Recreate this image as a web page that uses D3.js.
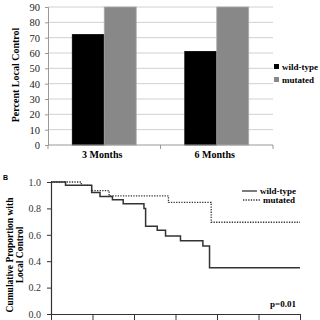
<!DOCTYPE html>
<html>
<head>
<meta charset="utf-8">
<script src="https://cdn.jsdelivr.net/npm/d3@7"></script>
<style>
  body { margin: 0; background: #fff; }
  svg text { font-family: "Liberation Serif", "DejaVu Serif", serif; }
</style>
</head>
<body>
<div id="chart"></div>
<script>
// ---- data: panel A (bar chart) ----
var categories = ["3 Months", "6 Months"];
var groups = ["wild-type", "mutated"];
var wildType = [72, 61];
var mutated = [90, 90];
var barTicks = [0, 10, 20, 30, 40, 50, 60, 70, 80, 90];

// ---- data: panel B (Kaplan-Meier steps, months vs proportion) ----
var wtTimes = [0, 3.5, 9.8, 11.8, 14.8, 17.4, 22.4, 22.8, 25.6, 27.6, 31.2, 36.6, 38.2, 60];
var wtSurv  = [1.0, 0.975, 0.92, 0.89, 0.865, 0.835, 0.80, 0.665, 0.635, 0.59, 0.555, 0.515, 0.35, 0.35];
var mutTimes = [0, 7.3, 9.8, 14.0, 28.3, 38.6, 60];
var mutSurv  = [1.0, 0.975, 0.935, 0.895, 0.845, 0.695, 0.695];
var kmTicksY = [0, 0.2, 0.4, 0.6, 0.8, 1.0];
var kmTicksX = [0, 10, 20, 30, 40, 50, 60];

var serif = "'Liberation Serif', 'DejaVu Serif', serif";

var svg = d3.select("#chart")
  .append("svg")
    .attr("width", 320)
    .attr("height", 320);

// ================= panel A =================
var xA = d3.scaleBand().domain(categories).range([48, 273]);
var xInner = d3.scaleBand().domain(groups)
  .range([0, xA.bandwidth()])
  .paddingOuter(0.76);
var yA = d3.scaleLinear().domain([0, 90]).range([145, 7]);

// gridlines
svg.append("g")
  .selectAll("line")
  .data(barTicks.slice(1))
  .enter().append("line")
    .attr("x1", 48).attr("x2", 273)
    .attr("y1", function(d) { return yA(d); })
    .attr("y2", function(d) { return yA(d); })
    .attr("stroke", "#d0d0d0")
    .attr("stroke-width", 1);

// bars
var barColor = { "wild-type": "#000", "mutated": "#888" };
var barData = [];
categories.forEach(function(c, i) {
  barData.push({ cat: c, grp: "wild-type", value: wildType[i] });
  barData.push({ cat: c, grp: "mutated", value: mutated[i] });
});
svg.append("g")
  .selectAll("rect")
  .data(barData)
  .enter().append("rect")
    .attr("x", function(d) { return xA(d.cat) + xInner(d.grp); })
    .attr("y", function(d) { return yA(d.value); })
    .attr("width", xInner.bandwidth())
    .attr("height", function(d) { return yA(0) - yA(d.value); })
    .attr("fill", function(d) { return barColor[d.grp]; })
    .attr("stroke", function(d) { return d.grp == "mutated" ? "#aaa" : "#000"; })
    .attr("stroke-width", 0.8);

// y axis
var yAxisA = svg.append("g")
  .attr("transform", "translate(48,0)")
  .call(d3.axisLeft(yA).tickValues(barTicks).tickSize(3).tickPadding(5));
yAxisA.attr("font-family", null);
yAxisA.select(".domain").attr("stroke", "#999");
yAxisA.selectAll(".tick line").attr("stroke", "#999");
yAxisA.selectAll("text").style("font-family", serif).style("font-size", "10.5px").attr("fill", "#222");

// x axis
var xAxisA = svg.append("g")
  .attr("transform", "translate(0,145)");
xAxisA.append("line")
  .attr("x1", 48).attr("x2", 273)
  .attr("stroke", "#999");
xAxisA.selectAll(".sep")
  .data([48, xA(categories[1]), 273])
  .enter().append("line")
    .attr("x1", function(d) { return d; })
    .attr("x2", function(d) { return d; })
    .attr("y1", 0).attr("y2", 4)
    .attr("stroke", "#999");
xAxisA.selectAll(".cat")
  .data(categories)
  .enter().append("text")
    .attr("x", function(d) { return xA(d) + xA.bandwidth() / 2 - 2; })
    .attr("y", 13)
    .attr("text-anchor", "middle")
    .style("font-family", serif)
    .style("font-size", "10px")
    .style("font-weight", "bold")
    .text(function(d) { return d; });

// y label
svg.append("text")
  .attr("transform", "translate(19,75) rotate(-90)")
  .attr("text-anchor", "middle")
  .style("font-family", serif)
  .style("font-size", "10px")
  .style("font-weight", "bold")
  .text("Percent Local Control");

// legend
var legA = svg.append("g").attr("transform", "translate(274,64)");
groups.forEach(function(g, i) {
  legA.append("rect")
    .attr("x", 0).attr("y", i * 13)
    .attr("width", 5).attr("height", 5)
    .attr("fill", barColor[g]);
  legA.append("text")
    .attr("x", 8).attr("y", i * 13 + 5.5)
    .style("font-family", serif)
    .style("font-size", "9px")
    .style("font-weight", "bold")
    .text(g);
});

// ================= panel B =================
var xB = d3.scaleLinear().domain([0, 60]).range([51, 300]);
var yB = d3.scaleLinear().domain([0, 1]).range([314, 182]);

svg.append("text")
  .attr("x", 3).attr("y", 180)
  .style("font-family", "'Liberation Sans', Arial, sans-serif")
  .style("font-size", "7px")
  .style("font-weight", "bold")
  .text("B");

var yAxisB = svg.append("g")
  .attr("transform", "translate(51,0)")
  .call(d3.axisLeft(yB).tickValues(kmTicksY).tickFormat(d3.format(".1f")).tickSize(4).tickPadding(6));
yAxisB.attr("font-family", null);
yAxisB.select(".domain").attr("stroke", "#333").attr("stroke-width", 1.2);
yAxisB.selectAll(".tick line").attr("stroke", "#333");
yAxisB.selectAll("text").style("font-family", serif).style("font-size", "10px").attr("fill", "#333");

var xAxisB = svg.append("g")
  .attr("transform", "translate(0,314)")
  .call(d3.axisBottom(xB).tickValues(kmTicksX).tickFormat("").tickSize(6).tickSizeOuter(0));
xAxisB.select(".domain").attr("stroke", "#333").attr("stroke-width", 1.2);
xAxisB.selectAll(".tick line").attr("stroke", "#333");

var stepLine = d3.line()
  .x(function(d) { return xB(d[0]); })
  .y(function(d) { return yB(d[1]); })
  .curve(d3.curveStepAfter);

svg.append("path")
  .datum(d3.zip(mutTimes, mutSurv))
  .attr("d", stepLine)
  .attr("fill", "none")
  .attr("stroke", "#333")
  .attr("stroke-width", 1.3)
  .attr("stroke-dasharray", "1.3,1.3");

svg.append("path")
  .datum(d3.zip(wtTimes, wtSurv))
  .attr("d", stepLine)
  .attr("fill", "none")
  .attr("stroke", "#333")
  .attr("stroke-width", 1.5);

// y label (two lines)
var ylabB = svg.append("text")
  .attr("transform", "translate(13,255) rotate(-90)")
  .attr("text-anchor", "middle")
  .style("font-family", serif)
  .style("font-size", "9.5px")
  .style("font-weight", "bold");
ylabB.append("tspan").attr("x", 0).attr("dy", 0).text("Cumulative Proportion with");
ylabB.append("tspan").attr("x", 0).attr("dy", 10).text("Local Control");

// legend
var legB = svg.append("g").attr("transform", "translate(242,191)");
legB.append("line")
  .attr("x1", 0).attr("x2", 15).attr("y1", 0).attr("y2", 0)
  .attr("stroke", "#333").attr("stroke-width", 1.3);
legB.append("text")
  .attr("x", 18).attr("y", 3)
  .style("font-family", serif)
  .style("font-size", "9px").style("font-weight", "bold")
  .text("wild-type");
legB.append("line")
  .attr("x1", 1).attr("x2", 18).attr("y1", 9).attr("y2", 9)
  .attr("stroke", "#333").attr("stroke-width", 1.3)
  .attr("stroke-dasharray", "1.3,1.3");
legB.append("text")
  .attr("x", 21).attr("y", 12)
  .style("font-family", serif)
  .style("font-size", "9px").style("font-weight", "bold")
  .text("mutated");

svg.append("text")
  .attr("x", 296).attr("y", 307)
  .attr("text-anchor", "end")
  .style("font-family", serif)
  .style("font-size", "9px")
  .style("font-weight", "bold")
  .text("p=0.01");
</script>
</body>
</html>
